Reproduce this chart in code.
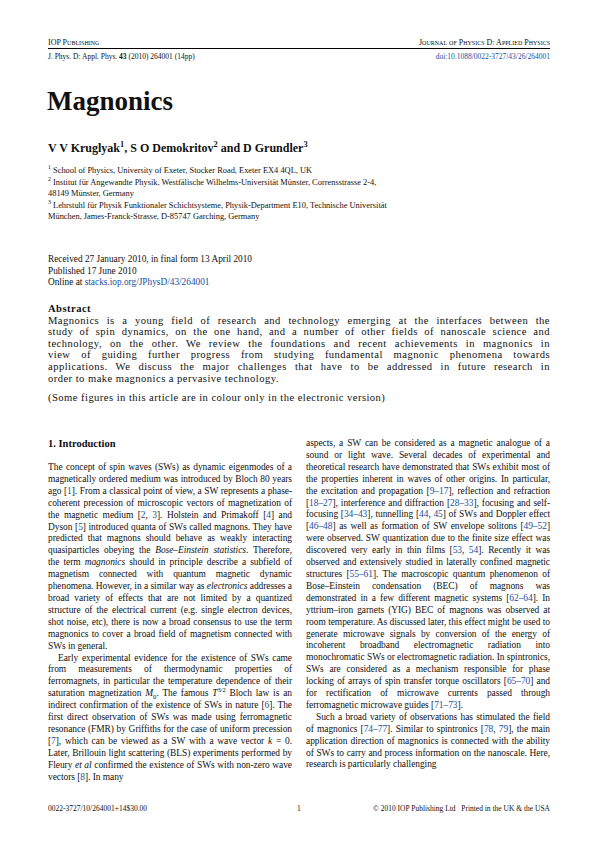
<!DOCTYPE html><html><head><meta charset="utf-8">
<script src="https://cdn.jsdelivr.net/npm/chart.js@4"></script>
<style>
body{margin:0;width:595px;height:842px;font-family:"Liberation Serif","DejaVu Serif",serif;color:#111;position:relative;overflow:hidden}
.a{position:absolute}
.sc{font-variant:small-caps}
sup,sub{line-height:0;font-size:70%}
.col{position:absolute;width:244px;font-size:9.45px;line-height:11.9px;letter-spacing:-0.05px;text-align:justify;hyphens:auto}
.col p{margin:0;text-indent:10px}
.col p.ni{text-indent:0}
.c{color:#1a4fa0}
.abs span.l{display:block;text-align:justify;text-align-last:justify}
</style></head><body>
<div class="a sc" style="left:48px;top:38px;font-size:8px">IOP Publishing</div>
<div class="a sc" style="right:45px;top:38px;font-size:8px">Journal of Physics D: Applied Physics</div>
<div class="a" style="left:48px;top:48px;width:502px;border-top:0.6px solid #000"></div>
<div class="a" style="left:48px;top:52px;font-size:7.5px">J. Phys. D: Appl. Phys. <b>43</b> (2010) 264001 (14pp)</div>
<div class="a c" style="right:45px;top:52px;font-size:7.5px">doi:10.1088/0022-3727/43/26/264001</div>
<div class="a" style="left:47px;top:86px;font-size:27px;font-weight:bold">Magnonics</div>
<div class="a" style="left:48px;top:141px;font-size:12px;font-weight:bold">V V Kruglyak<sup>1</sup>, S O Demokritov<sup>2</sup> and D Grundler<sup>3</sup></div>
<div class="a" style="left:48px;top:165px;font-size:8.4px;line-height:11.6px;width:480px">
<sup>1</sup> School of Physics, University of Exeter, Stocker Road, Exeter EX4 4QL, UK<br>
<sup>2</sup> Institut für Angewandte Physik, Westfälische Wilhelms-Universität Münster, Corrensstrasse 2-4,<br>48149 Münster, Germany<br>
<sup>3</sup> Lehrstuhl für Physik Funktionaler Schichtsysteme, Physik-Department E10, Technische Universität<br>München, James-Franck-Strasse, D-85747 Garching, Germany</div>
<div class="a" style="left:48px;top:254px;font-size:9.3px;line-height:11.6px">Received 27 January 2010, in final form 13 April 2010<br>Published 17 June 2010<br>Online at <span class="c">stacks.iop.org/JPhysD/43/264001</span></div>
<div class="a abs" style="left:48px;top:303px;width:502px;font-size:10.6px;line-height:11.6px;letter-spacing:0.45px">
<b>Abstract</b><br><span class="l">Magnonics is a young field of research and technology emerging at the interfaces between the</span><span class="l">study of spin dynamics, on the one hand, and a number of other fields of nanoscale science and</span><span class="l">technology, on the other. We review the foundations and recent achievements in magnonics in</span><span class="l">view of guiding further progress from studying fundamental magnonic phenomena towards</span><span class="l">applications. We discuss the major challenges that have to be addressed in future research in</span>order to make magnonics a pervasive technology.<br><div style="height:8px"></div>(Some figures in this article are in colour only in the electronic version)</div>
<div class="a" style="left:48px;top:438px;font-size:10.5px;font-weight:bold">1. Introduction</div>
<div class="col" style="left:48px;top:462px">
<p class="ni">The concept of spin waves (SWs) as dynamic eigenmodes of a magnetically ordered medium was introduced by Bloch 80 years ago [<span class="c">1</span>]. From a classical point of view, a SW represents a phase-coherent precession of microscopic vectors of magnetization of the magnetic medium [<span class="c">2</span>, <span class="c">3</span>]. Holstein and Primakoff [<span class="c">4</span>] and Dyson [<span class="c">5</span>] introduced quanta of SWs called magnons. They have predicted that magnons should behave as weakly interacting quasiparticles obeying the <i>Bose–Einstein statistics</i>. Therefore, the term <i>magnonics</i> should in principle describe a subfield of magnetism connected with quantum magnetic dynamic phenomena. However, in a similar way as <i>electronics</i> addresses a broad variety of effects that are not limited by a quantized structure of the electrical current (e.g. single electron devices, shot noise, etc), there is now a broad consensus to use the term magnonics to cover a broad field of magnetism connected with SWs in general.</p>
<p>Early experimental evidence for the existence of SWs came from measurements of thermodynamic properties of ferromagnets, in particular the temperature dependence of their saturation magnetization <i>M</i><sub>0</sub>. The famous <i>T</i><sup>3/2</sup> Bloch law is an indirect confirmation of the existence of SWs in nature [<span class="c">6</span>]. The first direct observation of SWs was made using ferromagnetic resonance (FMR) by Griffiths for the case of uniform precession [<span class="c">7</span>], which can be viewed as a SW with a wave vector <i>k</i> = 0. Later, Brillouin light scattering (BLS) experiments performed by Fleury <i>et al</i> confirmed the existence of SWs with non-zero wave vectors [<span class="c">8</span>]. In many</p></div>
<div class="col" style="left:306px;top:438px">
<p class="ni">aspects, a SW can be considered as a magnetic analogue of a sound or light wave. Several decades of experimental and theoretical research have demonstrated that SWs exhibit most of the properties inherent in waves of other origins. In particular, the excitation and propagation [<span class="c">9–17</span>], reflection and refraction [<span class="c">18–27</span>], interference and diffraction [<span class="c">28–33</span>], focusing and self-focusing [<span class="c">34–43</span>], tunnelling [<span class="c">44</span>, <span class="c">45</span>] of SWs and Doppler effect [<span class="c">46–48</span>] as well as formation of SW envelope solitons [<span class="c">49–52</span>] were observed. SW quantization due to the finite size effect was discovered very early in thin films [<span class="c">53</span>, <span class="c">54</span>]. Recently it was observed and extensively studied in laterally confined magnetic structures [<span class="c">55–61</span>]. The macroscopic quantum phenomenon of Bose–Einstein condensation (BEC) of magnons was demonstrated in a few different magnetic systems [<span class="c">62–64</span>]. In yttrium–iron garnets (YIG) BEC of magnons was observed at room temperature. As discussed later, this effect might be used to generate microwave signals by conversion of the energy of incoherent broadband electromagnetic radiation into monochromatic SWs or electromagnetic radiation. In spintronics, SWs are considered as a mechanism responsible for phase locking of arrays of spin transfer torque oscillators [<span class="c">65–70</span>] and for rectification of microwave currents passed through ferromagnetic microwave guides [<span class="c">71–73</span>].</p>
<p>Such a broad variety of observations has stimulated the field of magnonics [<span class="c">74–77</span>]. Similar to spintronics [<span class="c">78</span>, <span class="c">79</span>], the main application direction of magnonics is connected with the ability of SWs to carry and process information on the nanoscale. Here, research is particularly challenging</p></div>
<div class="a" style="left:48px;top:804px;font-size:7.5px">0022-3727/10/264001+14$30.00</div>
<div class="a" style="left:297px;top:804px;font-size:7.5px">1</div>
<div class="a" style="right:45px;top:804px;font-size:7.5px">© 2010 IOP Publishing Ltd &nbsp;&nbsp;Printed in the UK &amp; the USA</div>
</body></html>
